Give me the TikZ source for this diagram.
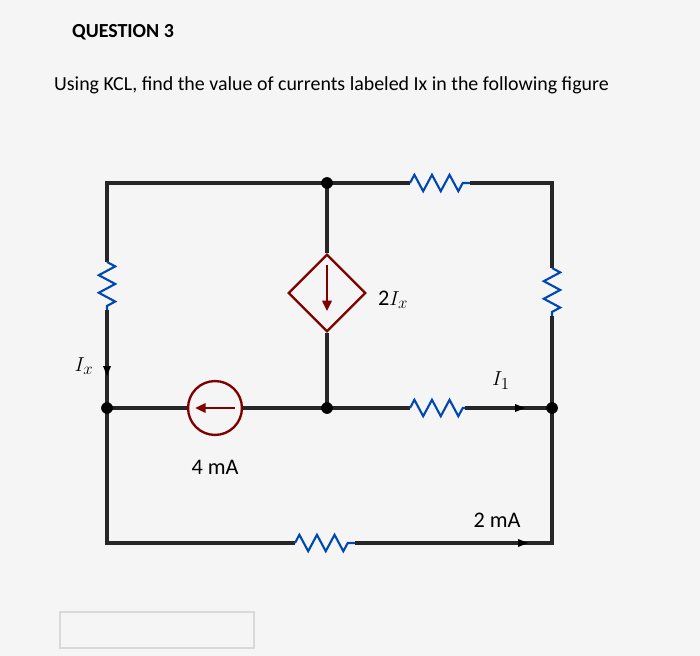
\documentclass[tikz,border=0pt]{standalone}
\usepackage{fontspec}
\setmainfont{Carlito}
\usetikzlibrary{decorations.pathmorphing,arrows.meta,shapes.geometric}
\begin{document}
\begin{tikzpicture}[x=0.03cm,y=-0.03cm,
  wire/.style={line width=3pt,draw=black!85},
  res/.style={line width=1.8pt,draw=blue!60!cyan!70!black,decorate,decoration={zigzag,segment length=15,amplitude=7}},
  src/.style={line width=2pt,draw=red!50!black},
  dot/.style={circle,fill=black,inner sep=0,minimum size=10pt},
  lbl/.style={font=\fontsize{19}{22}\selectfont}]
\fill[gray!8] (0,0) rectangle (700,656);
\node[anchor=west,font=\bfseries\fontsize{17}{20}\selectfont] (q) at (68,32) {QUESTION 3};
\node[anchor=west,font=\fontsize{17}{20}\selectfont] (t) at (50,85) {Using KCL, find the value of currents labeled Ix in the following figure};
\coordinate (tl) at (107,183); \coordinate (tm) at (327,183); \coordinate (tr) at (552,183);
\coordinate (ml) at (107,408); \coordinate (mm) at (327,408); \coordinate (mr) at (552,408);
\coordinate (bl) at (107,543); \coordinate (br) at (552,543);
\coordinate (r1a) at (410,183); \coordinate (r1b) at (470,183);
\coordinate (r2a) at (107,262); \coordinate (r2b) at (107,310);
\coordinate (r3a) at (552,268); \coordinate (r3b) at (552,316);
\coordinate (r4a) at (410,408); \coordinate (r4b) at (465,408);
\coordinate (r5a) at (295,543); \coordinate (r5b) at (355,543);
\node[diamond,draw=red!50!black,line width=2pt,minimum size=66pt,inner sep=0] (d) at (327,293) {};
\node[circle,draw=red!50!black,line width=2pt,minimum size=46pt,inner sep=0] (c) at (215,408) {};
\draw[wire] (r2a) -- (tl) -- (tm) -- (r1a);
\draw[wire] (r1b) -- (tr) -- (r3a);
\draw[wire] (r3b) -- (mr) -- (br) -- (r5b);
\draw[wire] (r5a) -- (bl) -- (ml) -- (r2b);
\draw[wire] (ml) -- (c.west); \draw[wire] (c.east) -- (mm) -- (r4a);
\draw[wire] (r4b) -- (mr);
\draw[wire] (tm) -- (d.north); \draw[wire] (d.south) -- (mm);
\draw[res] (r1a) -- (r1b); \draw[res] (r2a) -- (r2b); \draw[res] (r3a) -- (r3b);
\draw[res] (r4a) -- (r4b); \draw[res] (r5a) -- (r5b);
\draw[src,-{Triangle[length=9pt,width=8pt]}] (d.north) ++(0,12) -- ++(0,46);
\draw[src,-{Triangle[length=9pt,width=8pt]}] (c.east) ++(-8,0) -- ++(-40,0);
\node[dot] (n1) at (tm) {}; \node[dot] (n2) at (ml) {}; \node[dot] (n3) at (mm) {}; \node[dot] (n4) at (mr) {};
\fill[black] (107,376) -- ++(-4,-10) -- ++(8,0) -- cycle;
\fill[black] (525,408) -- ++(-10,-4) -- ++(0,8) -- cycle;
\fill[black] (528,543) -- ++(-10,-4) -- ++(0,8) -- cycle;
\node[lbl] (ix) at (84,366) {$I_x$};
\node[lbl] (i1) at (501,381) {$I_1$};
\node[lbl,anchor=west] (gx) at (374,300) {2$I_x$};
\node[lbl] (f) at (215,467) {4 mA};
\node[lbl] (t2) at (497,520) {2 mA};
\draw[gray!30,line width=1pt] (60,612) rectangle (254,648);
\end{tikzpicture}
\end{document}
